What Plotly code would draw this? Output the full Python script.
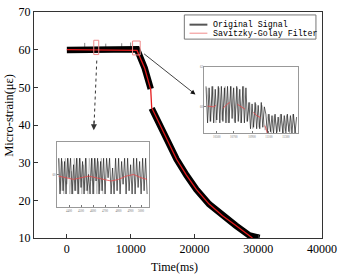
import plotly.graph_objects as go

# ---------------- main data ----------------
filter_time = [0, 11000, 12200, 13000, 13150, 13300, 14500, 15700, 17200, 18750,
               20300, 22300, 24400, 26500, 28600, 29100]
filter_strain = [60.0, 59.8, 55.1, 50.7, 49.4, 44.6, 40.4, 35.8, 30.9, 26.7,
                 22.9, 19.0, 15.9, 13.3, 10.7, 10.0]

orig_time = [0, 5000, 10800, 11000, 12200, 13000, 13150, None, 13300, 14500, 15700,
             17200, 18750, 20300, 22300, 24400, 26500, 28600, 30200]
orig_strain = [59.9, 59.9, 60.0, 60.1, 55.1, 50.7, 49.6, None, 44.4, 40.4, 35.8,
               30.9, 26.7, 22.9, 19.0, 15.9, 13.3, 10.7, 10.0]

spike_time = [2800, 6100, 8600, 10000, 10300]
spike_top = [61.8, 61.6, 61.7, 61.9, 61.6]

x_ticks = [0, 10000, 20000, 30000, 40000]
y_ticks = [10, 20, 30, 40, 50, 60, 70]

# zoom boxes (time range, strain range)
box1_time = [4220, 5000]
box1_strain = [58.7, 62.5]
box2_time = [10300, 11500]
box2_strain = [58.6, 62.3]

# ---------------- inset 1 (flat region) ----------------
inset1_black = [60.5, 59.4, 60.5, 59.5, 60.4, 59.4, 60.5, 59.9, 60.5, 59.4, 60.3, 59.5,
                60.5, 59.4, 60.5, 59.6, 60.4, 59.4, 60.5, 59.5, 60.0, 59.4, 60.5, 59.4,
                60.5, 59.8, 60.5, 59.4, 60.4, 59.5, 60.5, 59.4, 60.5, 59.9, 60.5, 59.4,
                60.2, 59.4, 60.5, 59.5, 60.5, 59.4, 60.4, 59.7, 60.5, 59.4, 60.5, 59.5,
                60.3, 59.4, 60.5, 59.4, 60.5, 59.6, 60.4, 59.4, 60.5, 59.5, 60.5, 59.4]
inset1_gray = [60.5, 59.5, 60.4, 59.4, 60.5, 59.7, 60.5, 59.4, 60.1, 59.4, 60.5, 59.5,
               60.5, 59.4, 60.5, 59.4, 60.3, 59.5, 60.5, 59.4, 60.5, 59.8, 60.5, 59.4,
               60.5, 59.4, 60.4, 59.5, 60.5, 59.4]
inset1_filter_idx = [0, 5, 10, 15, 20, 25, 30, 35, 40, 45, 50, 55, 59]
inset1_filter = [59.95, 59.9, 59.85, 59.9, 59.95, 59.9, 59.85, 59.8, 59.85, 59.95,
                 60.0, 59.9, 59.85]
inset1_ticks = [7, 15, 23, 31, 40, 48, 55]
inset1_ticktext = ["4400", "4500", "4600", "4700", "4800", "4900", "5000"]

# ---------------- inset 2 (start of decay) ----------------
inset2_black = [60.7, 58.2, 60.6, 58.3, 60.7, 58.2, 60.5, 58.4, 60.7, 58.2, 60.7, 58.3,
                60.6, 58.2, 60.7, 58.2, 60.7, 58.5, 60.6, 58.2, 60.7, 58.3, 60.5, 58.2,
                60.7, 58.2, 60.6, 58.3, 59.6, 57.8, 59.5, 57.9, 59.6, 57.8, 59.4, 57.8,
                59.6, 57.9, 59.3, 58.8, 57.5, 58.8, 57.6, 58.7, 57.5, 58.8, 57.5, 58.6,
                57.6, 58.8, 57.5, 58.7, 57.5, 58.8, 57.6, 58.7, 57.5, 58.8, 57.5, 58.6]
inset2_gray = [60.6, 58.3, 60.7, 58.2, 60.6, 58.4, 60.7, 58.2, 60.7, 58.3, 60.6, 58.2,
               60.7, 58.3, 59.6, 57.8, 59.5, 57.9, 59.4, 57.7, 58.8, 57.5, 58.7, 57.6,
               58.8, 57.5, 58.7, 57.5, 58.8, 57.5]
inset2_filter_idx = [1, 5, 8, 11, 14, 17, 20, 24, 26, 29, 31, 33, 35, 37, 39, 40]
inset2_filter = [59.35, 59.3, 59.5, 59.2, 59.5, 59.7, 59.5, 59.2, 59.1, 58.95, 58.9,
                 58.7, 58.6, 58.3, 57.85, 57.5]
inset2_ticks = [7, 18, 30, 41, 52]
inset2_ticktext = ["10500", "10700", "10900", "11100", "11300"]

# ---------------- figure ----------------
fig = go.Figure()

# spikes of the original signal (thin gray)
sx, sy = [], []
for t, top in zip(spike_time, spike_top):
    sx += [t, t, None]
    sy += [60.0, top, None]
fig.add_trace(go.Scatter(x=sx, y=sy, mode="lines", line=dict(color="#888", width=1),
                         showlegend=False, hoverinfo="skip"))
fig.add_trace(go.Scatter(x=orig_time, y=orig_strain, mode="lines",
                         line=dict(color="black", width=6.5), name="Original Signal",
                         showlegend=False))
fig.add_trace(go.Scatter(x=filter_time, y=filter_strain, mode="lines",
                         line=dict(color="#e41a1c", width=1.3), name="Savitzky-Golay Filter",
                         showlegend=False))

# inset 1
fig.add_trace(go.Scatter(x=[i + 0.5 for i in range(len(inset1_gray))], y=inset1_gray,
                         xaxis="x2", yaxis="y2", mode="lines",
                         line=dict(color="#aaa", width=0.7), showlegend=False))
fig.add_trace(go.Scatter(x=list(range(len(inset1_black))), y=inset1_black,
                         xaxis="x2", yaxis="y2", mode="lines",
                         line=dict(color="#222", width=0.7), showlegend=False))
fig.add_trace(go.Scatter(x=inset1_filter_idx, y=inset1_filter, xaxis="x2", yaxis="y2",
                         mode="lines", line=dict(color="#e8474a", width=0.8), showlegend=False))
# inset 2
fig.add_trace(go.Scatter(x=[2 * i + 0.5 for i in range(len(inset2_gray))], y=inset2_gray,
                         xaxis="x3", yaxis="y3", mode="lines",
                         line=dict(color="#aaa", width=0.7), showlegend=False))
fig.add_trace(go.Scatter(x=list(range(len(inset2_black))), y=inset2_black,
                         xaxis="x3", yaxis="y3", mode="lines",
                         line=dict(color="#222", width=0.7), showlegend=False))
fig.add_trace(go.Scatter(x=inset2_filter_idx, y=inset2_filter, xaxis="x3", yaxis="y3",
                         mode="lines", line=dict(color="#e8474a", width=0.8, dash="dash"),
                         showlegend=False))

serif = "Liberation Serif, Times New Roman, serif"
axis_common = dict(showgrid=False, zeroline=False, showline=True, mirror=True,
                   linecolor="#333", linewidth=1, ticks="inside", ticklen=4,
                   tickcolor="#333", tickfont=dict(family=serif, size=12, color="black"))

inset_axis = dict(showgrid=False, zeroline=False, showline=True, mirror=True,
                  linecolor="#999", linewidth=0.8, ticks="inside", ticklen=2,
                  tickcolor="#777", tickfont=dict(family=serif, size=3, color="#777"))

fig.update_layout(
    width=342, height=275,
    margin=dict(l=34, r=19, t=5, b=37),
    paper_bgcolor="white", plot_bgcolor="white",
    showlegend=False,
    xaxis=dict(range=[-5150, 40000], tickvals=x_ticks, tickformat="d", domain=[0, 1],
               **axis_common),
    yaxis=dict(range=[10, 70], tickvals=y_ticks, domain=[0, 1], **axis_common),
    xaxis2=dict(domain=[0.080, 0.398], anchor="y2", range=[-1, 60],
                tickvals=inset1_ticks, ticktext=inset1_ticktext, **inset_axis),
    yaxis2=dict(domain=[0.137, 0.425], anchor="x2", range=[59.0, 61.0],
                tickvals=[60], ticktext=["60"], **inset_axis),
    xaxis3=dict(domain=[0.592, 0.917], anchor="y3", range=[-1, 60],
                tickvals=inset2_ticks, ticktext=inset2_ticktext, **inset_axis),
    yaxis3=dict(domain=[0.464, 0.755], anchor="x3", range=[57.5, 62.0],
                tickvals=[59.3, 62], ticktext=["60", "62"], **inset_axis),
)

shapes = []
for bt, bs in [(box1_time, box1_strain), (box2_time, box2_strain)]:
    shapes.append(dict(type="rect", xref="x", yref="y", x0=bt[0], x1=bt[1],
                       y0=bs[0], y1=bs[1], line=dict(color="#f08c8c", width=1)))
# dotted arrow shaft to inset 1
shapes.append(dict(type="line", xref="x", yref="y", x0=4690, y0=57.1, x1=4250, y1=39.5,
                   line=dict(color="#333", width=1, dash="dot")))
# manual legend
shapes.append(dict(type="rect", xref="paper", yref="paper", x0=0.522, x1=0.979,
                   y0=0.880, y1=0.987, line=dict(color="#777", width=1),
                   fillcolor="white", layer="above"))
shapes.append(dict(type="line", xref="paper", yref="paper", x0=0.540, x1=0.602,
                   y0=0.944, y1=0.944, line=dict(color="#555", width=2), layer="above"))
shapes.append(dict(type="line", xref="paper", yref="paper", x0=0.540, x1=0.602,
                   y0=0.906, y1=0.906, line=dict(color="#f4a6a6", width=1.3), layer="above"))
fig.update_layout(shapes=shapes)

mono = "Liberation Mono, Courier New, monospace"
annotations = [
    dict(xref="paper", yref="paper", x=0.616, y=0.944, xanchor="left", yanchor="middle",
         text="Original Signal", showarrow=False, font=dict(family=mono, size=8.3, color="black")),
    dict(xref="paper", yref="paper", x=0.616, y=0.906, xanchor="left", yanchor="middle",
         text="Savitzky-Golay Filter", showarrow=False,
         font=dict(family=mono, size=8.3, color="black")),
    # arrow head to inset 1
    dict(x=4220, y=38.6, xref="x", yref="y", ax=4270, ay=41.5, axref="x", ayref="y",
         text="", showarrow=True, arrowhead=2, arrowsize=1.2, arrowwidth=1, arrowcolor="#333"),
    # arrow to inset 2
    dict(x=20160, y=48.1, xref="x", yref="y", ax=11875, ay=59.2, axref="x", ayref="y",
         text="", showarrow=True, arrowhead=2, arrowsize=1.2, arrowwidth=0.8, arrowcolor="#111"),
    # axis titles
    dict(xref="paper", yref="paper", x=0.488, y=-0.129, xanchor="center", yanchor="middle",
         text="Time(ms)", showarrow=False, font=dict(family=serif, size=12, color="black")),
    dict(xref="paper", yref="paper", x=-0.0865, y=0.541, xanchor="center", yanchor="middle",
         text="Micro-strain(με)", textangle=-90, showarrow=False,
         font=dict(family=serif, size=12.5, color="black")),
]
fig.update_layout(annotations=annotations)

fig.write_html("out.html", config={"displayModeBar": False},
               post_script="document.body.style.margin='0';document.body.style.overflow='hidden';")
